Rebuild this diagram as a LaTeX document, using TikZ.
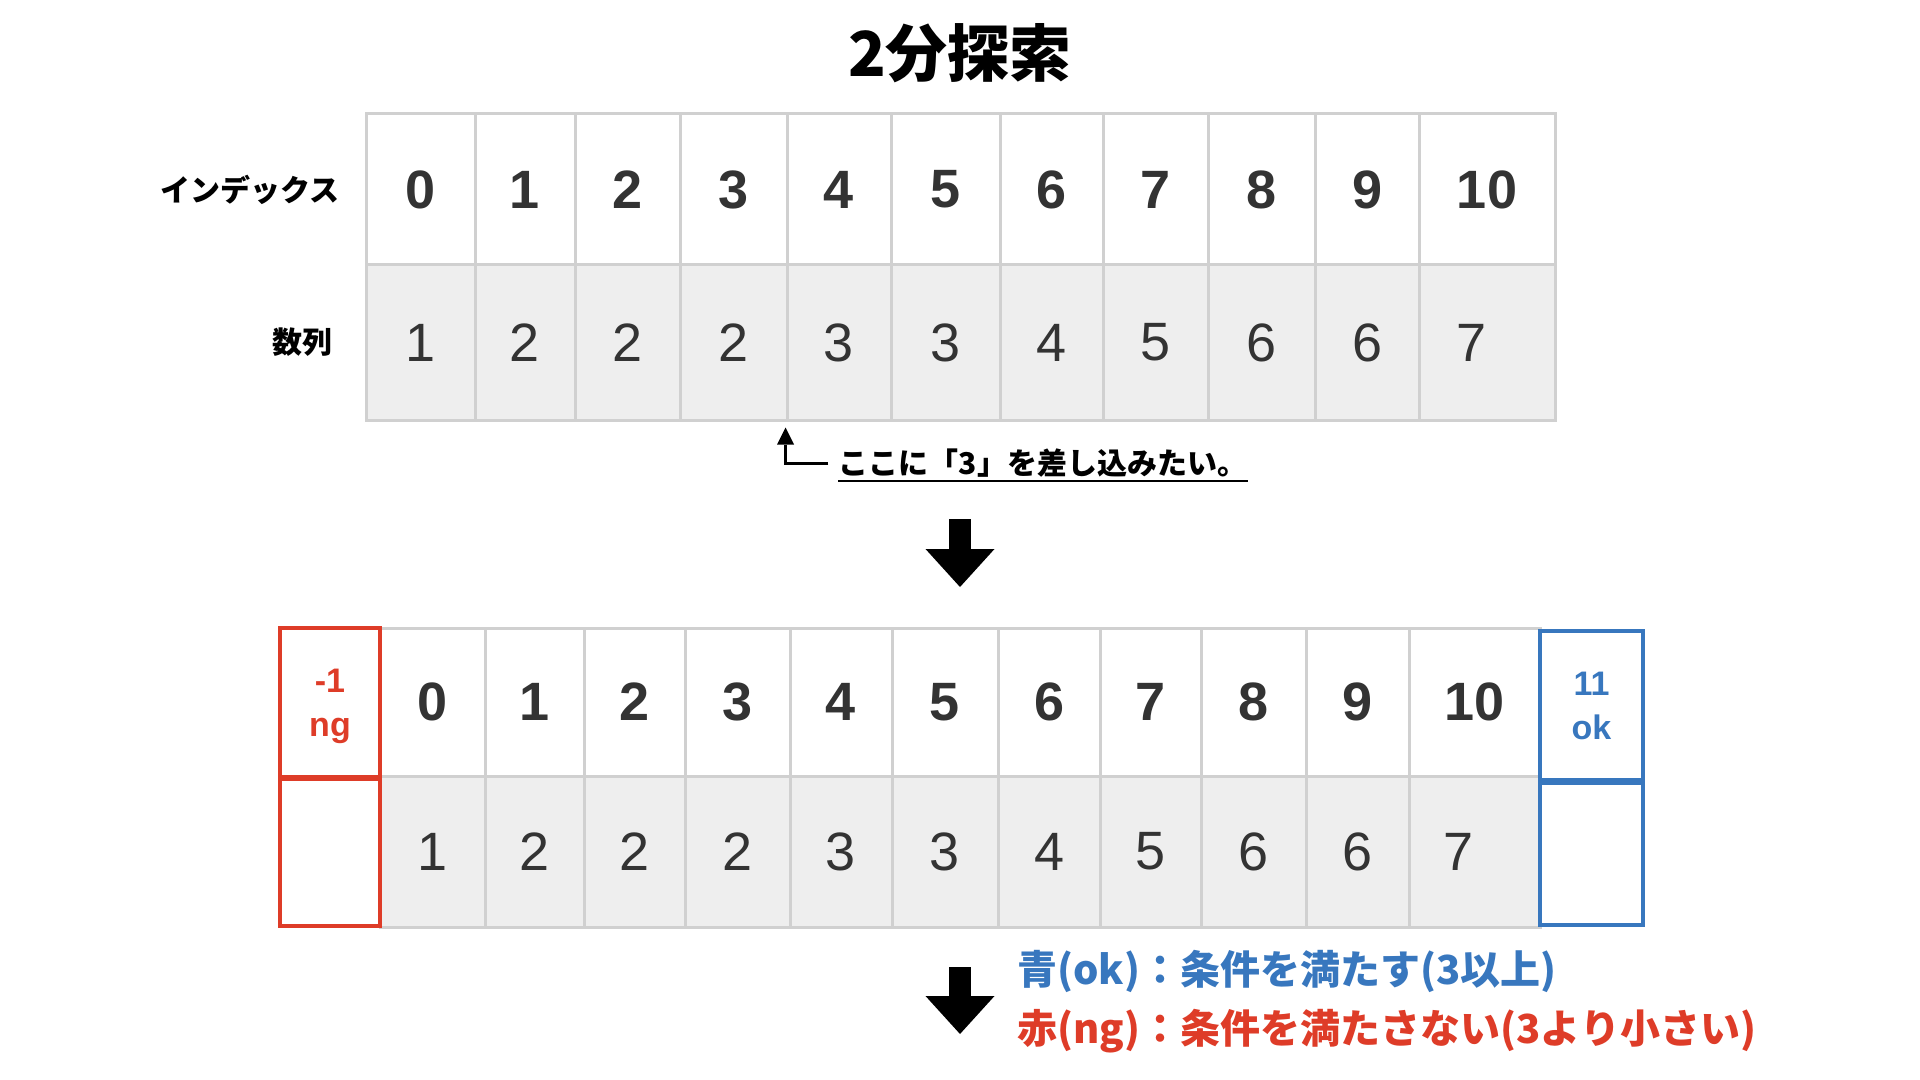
\documentclass[tikz,border=0pt]{standalone}
\usepackage{fontspec}
\setmainfont{Noto Sans CJK JP}
\newfontfamily\numfont{Liberation Sans}
\definecolor{cellgray}{RGB}{208,208,208}
\definecolor{valgray}{RGB}{238,238,238}
\definecolor{numgray}{RGB}{51,51,51}
\definecolor{ngred}{RGB}{222,60,40}
\definecolor{okblue}{RGB}{56,119,190}
\usetikzlibrary{arrows.meta,positioning}

\tikzset{
    cell/.style={rectangle, draw=cellgray, line width=1.5pt, inner sep=0pt, text=numgray},
    idxcell/.style={cell, fill=white, font=\numfont\bfseries\fontsize{27}{30}\selectfont},
    valcell/.style={cell, fill=valgray, font=\numfont\fontsize{27}{30}\selectfont},
    endcell/.style={rectangle, line width=1.75pt, fill=white, inner sep=0pt, align=center, text depth=0pt, font=\numfont\bfseries\fontsize{17}{22}\selectfont},
    rowlabel/.style={inner sep=0pt, font=\bfseries\fontsize{15}{18}\selectfont},
    legend/.style={inner sep=0pt, anchor=west, font=\bfseries\fontsize{20}{24}\selectfont},
    bigarrow/.style={line width=11pt, -{Triangle[width=34.5pt, length=19pt, line width=0pt]}},
    elbowarrow/.style={line width=1.5pt, sharp corners, -{Triangle[width=8.5pt, length=8.5pt, line width=0pt]}},
}

\begin{document}
\begin{tikzpicture}[x=0.5pt, y=-0.5pt]
    \useasboundingbox (0,0) rectangle (1920,1080);

    \node[inner sep=0pt, font=\bfseries\fontsize{31}{36}\selectfont] (title) at (960,53.5) {2分探索};

    % upper table
    \foreach \i/\l/\r/\v in {0/366/475/1, 1/475/575/2, 2/575/680/2, 3/680/787/2, 4/787/891/3, 5/891/1000/3, 6/1000/1103/4, 7/1103/1208/5, 8/1208/1315/6, 9/1315/1419/6, 10/1419/1555/{7\kern16pt}} {
        \node[idxcell, minimum width={(\r-\l)*0.5pt}, minimum height=75.5pt] (ti\i) at ({(\l+\r)/2},189.5) {\i};
        \node[valcell, minimum width={(\r-\l)*0.5pt}, minimum height=77.5pt] (tv\i) at ({(\l+\r)/2},342.5) {\v};
    }
    \node[rowlabel, left=12.5pt of ti0] (idxlabel) {インデックス};
    \node[rowlabel, left=16pt of tv0] (seqlabel) {数列};

    \node[inner sep=0pt, font=\bfseries\fontsize{15}{18}\selectfont] (note) at (1043,463) {ここに「3」を差し込みたい。};
    \draw[line width=1pt] ([yshift=-1.5pt]note.south west) -- ([yshift=-1.5pt]note.south east);
    \draw[elbowarrow] ([xshift=-5pt]note.west) -| ([yshift=-3pt]tv4.south west);

    \coordinate (downa) at (960,519);
    \coordinate (downb) at (960,587);
    \draw[bigarrow] (downa) -- (downb);

    % lower table
    \foreach \i/\l/\r/\v in {0/380/485/1, 1/485/584/2, 2/584/685/2, 3/685/790/2, 4/790/892/3, 5/892/998/3, 6/998/1100/4, 7/1100/1201/5, 8/1201/1306/6, 9/1306/1409/6, 10/1409/1540/{7\kern16pt}} {
        \node[idxcell, minimum width={(\r-\l)*0.5pt}, minimum height=74pt] (bi\i) at ({(\l+\r)/2},702) {\i};
        \node[valcell, minimum width={(\r-\l)*0.5pt}, minimum height=75.5pt] (bv\i) at ({(\l+\r)/2},851.5) {\v};
    }
    \node[endcell, draw=ngred, text=ngred, minimum width=50pt, minimum height=74.5pt] (ngtop) at (330,702.5) {-1\\ng};
    \node[endcell, draw=ngred, minimum width=50pt, minimum height=73.5pt] (ngbot) at (330,852.5) {};
    \node[endcell, draw=okblue, text=okblue, minimum width=51.5pt, minimum height=74.5pt] (oktop) at (1591.5,705.5) {11\\ok};
    \node[endcell, draw=okblue, minimum width=51.5pt, minimum height=71pt] (okbot) at (1591.5,854) {};

    \coordinate (downc) at (960,967);
    \coordinate (downd) at (960,1034);
    \draw[bigarrow] (downc) -- (downd);

    \node[legend, text=okblue] (okline) at (1017,971) {青(ok)：条件を満たす(3以上)};
    \node[legend, text=ngred] (ngline) at (1017,1031) {赤(ng)：条件を満たさない(3より小さい)};
\end{tikzpicture}
\end{document}
